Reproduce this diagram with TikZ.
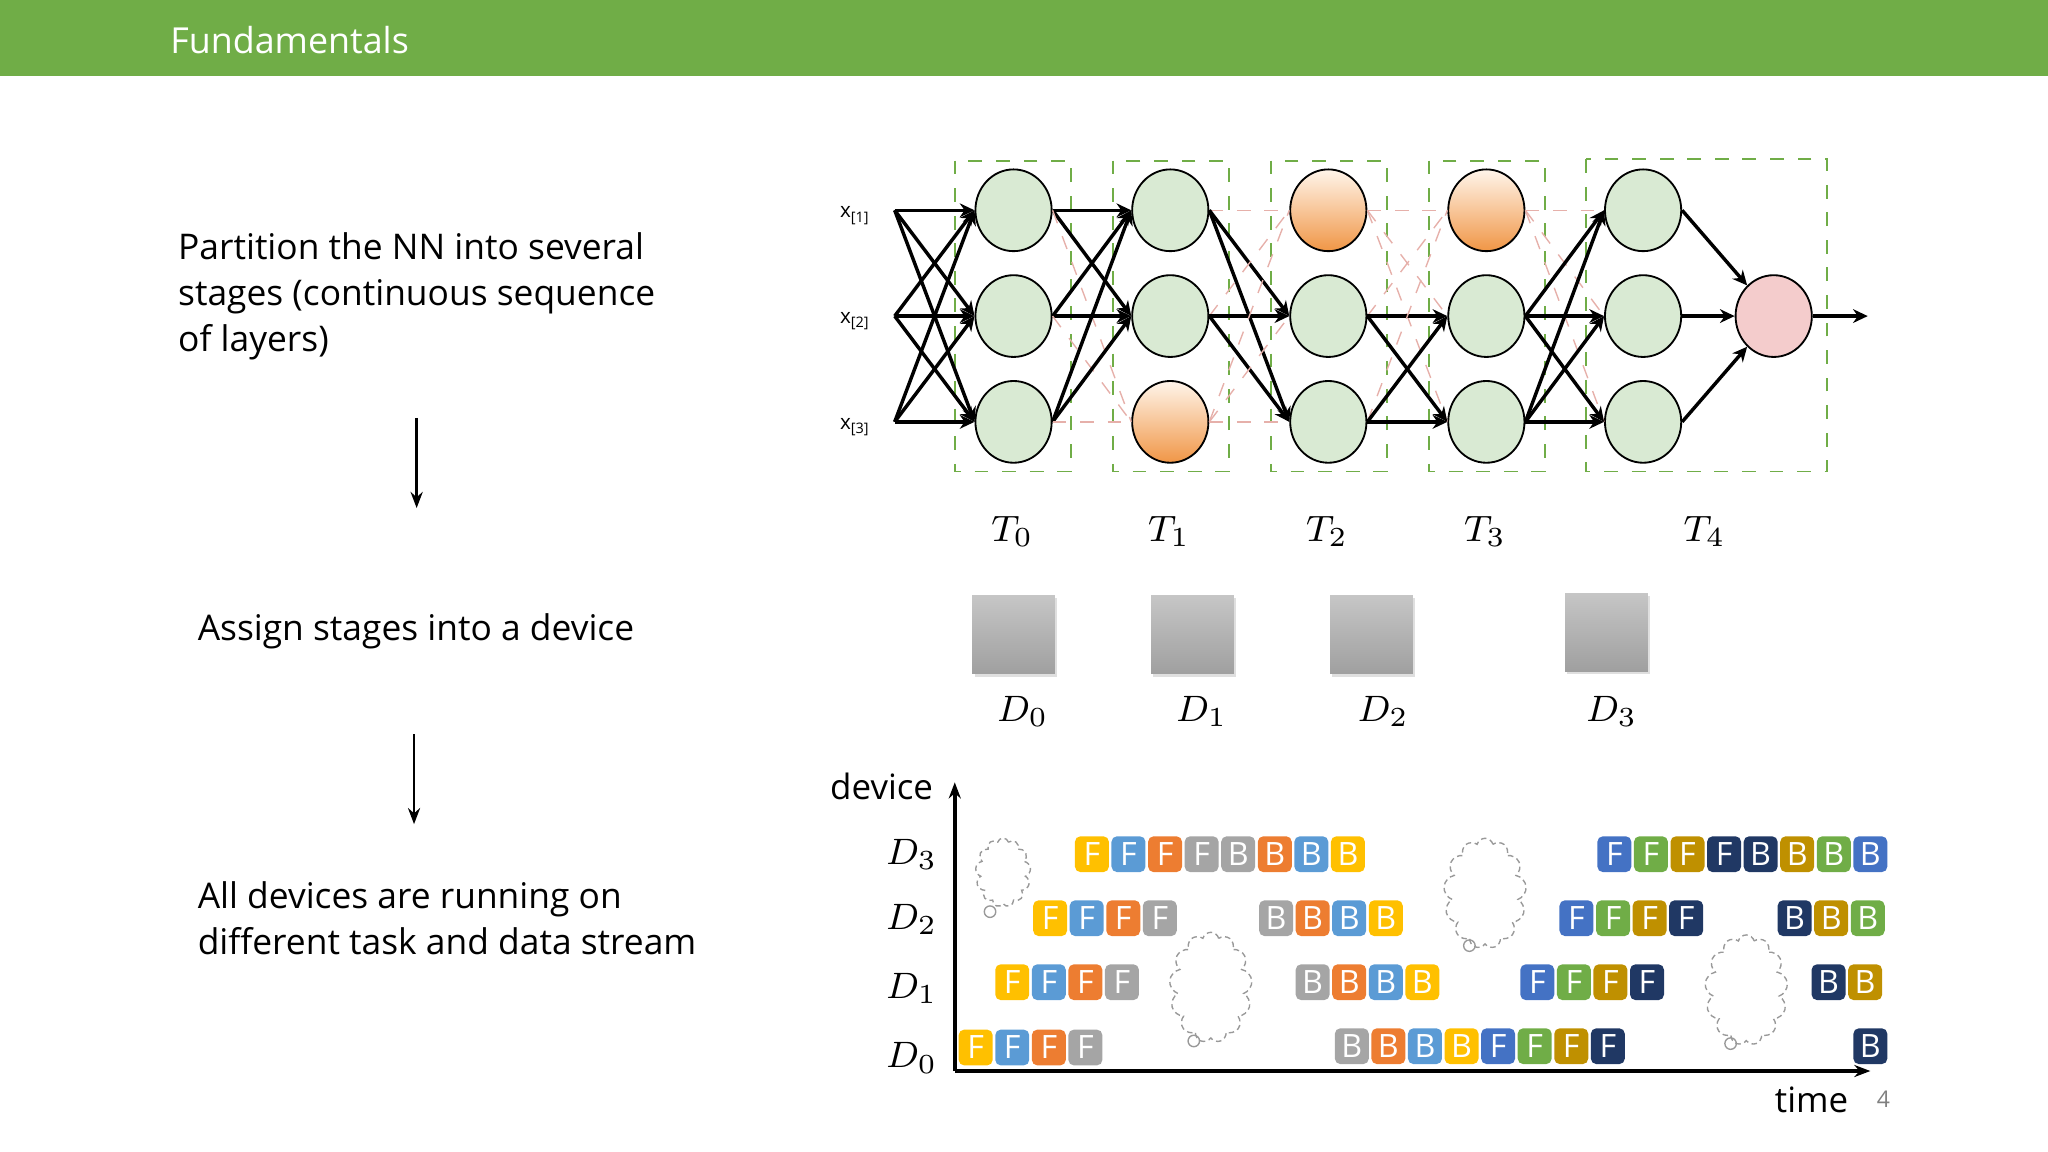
\documentclass[tikz,border=0pt]{standalone}
\usepackage{fontspec}
\setmainfont{Open Sans}
\usetikzlibrary{arrows.meta,shapes.symbols,shapes.geometric,shadows}
\definecolor{hdr}{HTML}{70AD47}
\definecolor{cY}{HTML}{FFC000}
\definecolor{cL}{HTML}{5B9BD5}
\definecolor{cO}{HTML}{ED7D31}
\definecolor{cG}{HTML}{A5A5A5}
\definecolor{cB}{HTML}{4472C4}
\definecolor{cN}{HTML}{70AD47}
\definecolor{cD}{HTML}{BF9000}
\definecolor{cV}{HTML}{203864}
\definecolor{ngreen}{HTML}{D9EAD3}
\definecolor{npink}{HTML}{F4CCCC}
\definecolor{dpink}{HTML}{E6B0AA}
\tikzset{
 neur/.style={ellipse,draw=black,line width=0.4pt,minimum width=16.6pt,minimum height=17.8pt,inner sep=0pt,fill=ngreen},
 oneur/.style={neur,top color=orange!8,bottom color={rgb,255:red,240;green,150;blue,70}},
 blk/.style={line width=0.75pt,-{Stealth[length=3.2pt,width=3pt]}},
 dsh/.style={dpink,dashed,line width=0.3pt},
 stg/.style={draw=hdr,dashed,line width=0.4pt},
 body/.style={font=\fontsize{7.7}{10}\selectfont,align=left,anchor=west},
 mlab/.style={font=\fontsize{8.5}{10}\selectfont},
 dev/.style={minimum width=18pt,minimum height=17pt,inner sep=0pt,top color=gray!45,bottom color=gray!75,drop shadow={opacity=0.25,shadow xshift=0.5pt,shadow yshift=-0.6pt}},
 tk/.style={rounded corners=1.2pt,minimum width=7.4pt,minimum height=7.8pt,inner sep=0pt,text=white,font=\fontsize{7}{7}\selectfont},
 thought/.style={cloud,cloud puffs=13,draw=gray!80,dash pattern=on 1.2pt off 0.8pt,line width=0.3pt,aspect=0.8,inner sep=0pt},
 arr/.style={line width=0.6pt,-{Stealth[length=3.5pt]}}
}
\expandafter\def\csname or-2-1\endcsname{}
\expandafter\def\csname or-3-1\endcsname{}
\expandafter\def\csname or-1-3\endcsname{}
\begin{document}
\begin{tikzpicture}[x=0.01cm,y=-0.01cm]
\useasboundingbox (0,0) rectangle (1568,882);
\fill[hdr] (0,0) rectangle (1568,58);
\node[text=white,anchor=west,font=\fontsize{7.8}{9}\selectfont] (title) at (118,31) {Fundamentals};
% left text
\node[body] (t1) at (124,227) {Partition the NN into several\\stages (continuous sequence\\of layers)};
\coordinate (a1s) at (319,320); \coordinate (a1e) at (319,389);
\draw[arr] (a1s) -- (a1e);
\node[body] (t2) at (139,483) {Assign stages into a device};
\coordinate (a2s) at (317,562); \coordinate (a2e) at (317,631);
\draw[arr] (a2s) -- (a2e);
\node[body] (t3) at (139,703) {All devices are running on\\different task and data stream};
% stage boxes
\draw[stg] (731,123) rectangle (820,361);
\draw[stg] (852,123) rectangle (941,361);
\draw[stg] (973,123) rectangle (1062,361);
\draw[stg] (1094,123) rectangle (1183,361);
\draw[stg] (1214,122) rectangle (1399,361);
% neurons
\foreach \c/\x in {0/776,1/896,2/1017,3/1138,4/1258}{
 \foreach \r/\y in {1/161,2/242,3/323}{
  \ifcsname or-\c-\r\endcsname
   \node[oneur] (n-\c-\r) at (\x,\y) {};
  \else
   \node[neur] (n-\c-\r) at (\x,\y) {};
  \fi
 }}
\node[neur,fill=npink] (out) at (1358,242) {};
% inputs
\foreach \r/\y in {1/161,2/242,3/323}{
 \node[font=\fontsize{4.5}{5}\selectfont] (x\r) at (655,\y+4) {x\textsubscript{[\r]}};
 \coordinate (i\r) at (685,\y);
}
\foreach \a in {1,2,3}{\foreach \b in {1,2,3}{\draw[blk] (i\a) -- (n-0-\b.west);}}
% hidden edges
\foreach \c in {0,1,2,3}{
 \pgfmathtruncatemacro\cn{\c+1}
 \foreach \a in {1,2,3}{\foreach \b in {1,2,3}{
  \ifcsname or-\c-\a\endcsname
   \draw[dsh] (n-\c-\a.east) -- (n-\cn-\b.west);
  \else\ifcsname or-\cn-\b\endcsname
   \draw[dsh] (n-\c-\a.east) -- (n-\cn-\b.west);
  \else
   \draw[blk] (n-\c-\a.east) -- (n-\cn-\b.west);
  \fi\fi
 }}}
\foreach \a in {1,2,3}{\draw[blk] (n-4-\a.east) -- (out);}
\coordinate (oe) at (1430,242);
\draw[blk] (out) -- (oe);
% T labels
\foreach \i/\x in {0/775,1/895,2/1016,3/1137,4/1305}{\node[mlab] (T\i) at (\x,407) {$T_{\i}$};}
% devices
\foreach \i/\x/\y in {0/776/486,1/913/486,2/1050/486,3/1230/484}{
 \node[dev] (dv\i) at (\x,\y) {};}
\foreach \i/\x in {0/783,1/920,2/1059,3/1234}{\node[mlab] (D\i) at (\x,545) {$D_{\i}$};}
% chart axes
\coordinate (org) at (731,820); \coordinate (ytop) at (731,599); \coordinate (xend) at (1432,820);
\draw[line width=0.8pt,-{Stealth[length=3.5pt]}] (org) -- (ytop);
\draw[line width=0.8pt,-{Stealth[length=3.5pt]}] (org) -- (xend);
\node[font=\fontsize{7.6}{9}\selectfont] (devl) at (675,602) {device};
\node[font=\fontsize{7.6}{9}\selectfont] (timel) at (1387,842) {time};
\node[font=\fontsize{5}{6}\selectfont,text=gray] (pg) at (1442,842) {4};
\foreach \i/\y in {3/654,2/704,1/757,0/810}{\node[mlab] (Dl\i) at (698,\y) {$D_{\i}$};}
% tasks
\def\row#1#2#3{\foreach [count=\k from 0] \col/\lt in {#3}{\node[tk,fill=\col] (tk-#2-#1-\k) at (#1+14+28*\k,#2) {\lt};}}
\row{822}{654}{cY/F,cL/F,cO/F,cG/F,cG/B,cO/B,cL/B,cY/B}
\row{1222}{654}{cB/F,cN/F,cD/F,cV/F,cV/B,cD/B,cN/B,cB/B}
\row{790}{703}{cY/F,cL/F,cO/F,cG/F}
\row{963}{703}{cG/B,cO/B,cL/B,cY/B}
\row{1193}{703}{cB/F,cN/F,cD/F,cV/F}
\row{1360}{703}{cV/B,cD/B,cN/B}
\row{761}{752}{cY/F,cL/F,cO/F,cG/F}
\row{991}{752}{cG/B,cO/B,cL/B,cY/B}
\row{1163}{752}{cB/F,cN/F,cD/F,cV/F}
\row{1386}{752}{cV/B,cD/B}
\row{733}{802}{cY/F,cL/F,cO/F,cG/F}
\row{1021}{801}{cG/B,cO/B,cL/B,cY/B,cB/F,cN/F,cD/F,cV/F}
\row{1418}{801}{cV/B}
% clouds
\node[thought,minimum width=12pt,minimum height=15pt] (c1) at (768,668) {};
\node[thought,minimum width=18pt,minimum height=24pt] (c2) at (1137,684) {};
\node[thought,minimum width=18pt,minimum height=24pt] (c3) at (927,756) {};
\node[thought,minimum width=18pt,minimum height=24pt] (c4) at (1337,758) {};
\foreach \n/\x/\y in {c1/757,c2/1125,c3/914,c4/1325}{}
\node[circle,draw=gray!80,line width=0.3pt,minimum size=2.5pt,inner sep=0pt] (c1t) at (758,698) {};
\node[circle,draw=gray!80,line width=0.3pt,minimum size=2.5pt,inner sep=0pt] (c2t) at (1125,724) {};
\node[circle,draw=gray!80,line width=0.3pt,minimum size=2.5pt,inner sep=0pt] (c3t) at (914,797) {};
\node[circle,draw=gray!80,line width=0.3pt,minimum size=2.5pt,inner sep=0pt] (c4t) at (1325,799) {};
\end{tikzpicture}
\end{document}
